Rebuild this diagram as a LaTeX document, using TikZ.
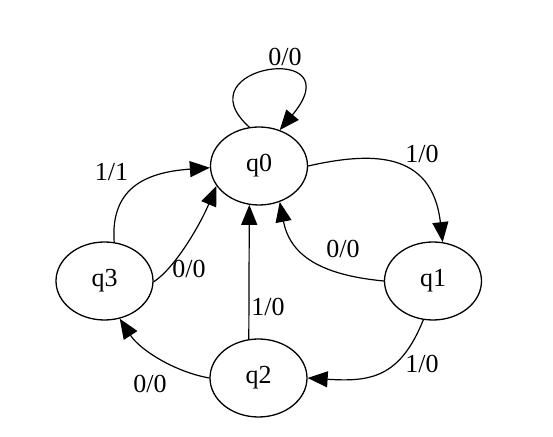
\documentclass[tikz,border=0pt]{standalone}
\usepackage{fontspec}
\setmainfont{Liberation Serif}
\usetikzlibrary{shapes.geometric,arrows.meta}
\begin{document}
\begin{tikzpicture}[x=0.5pt,y=-0.5pt,
  state/.style={ellipse,draw,line width=0.65pt,minimum width=48.5pt,minimum height=39pt,inner sep=0pt,font=\fontsize{13}{15}\selectfont},
  edge/.style={line width=0.6pt,-{Triangle[length=10pt,width=8pt]}},
  lbl/.style={font=\fontsize{13}{15}\selectfont,inner sep=0pt}]
\useasboundingbox[fill=white] (0,0) rectangle (553,437);
\node[state] (q0) at (259,166) {q0};
\node[state] (q1) at (433,281) {q1};
\node[state] (q2) at (258.5,378) {q2};
\node[state] (q3) at (104.5,281) {q3};
% self loop
\draw[edge] (q0.104) .. controls (180,65) and (355,40) .. (q0.60);
\node[lbl] (l00) at (285,57) {0/0};
% q0 -> q1
\draw[edge] (q0.east) .. controls (370,152) and (432,150) .. (q1.76);
\node[lbl] (l01) at (422,153.5) {1/0};
% q1 -> q0
\draw[edge] (q1.west) .. controls (320,275) and (290,255) .. (q0.300);
\node[lbl] (l10) at (343,249) {0/0};
% q1 -> q2
\draw[edge] (q1.256) .. controls (400,378) and (370,382) .. (q2.east);
\node[lbl] (l12) at (422,364) {1/0};
% q2 -> q0
\draw[edge] (q2.104) -- (q0.256);
\node[lbl] (l20) at (268,307) {1/0};
% q2 -> q3
\draw[edge] (q2.west) .. controls (175,372) and (140,350) .. (q3.292);
\node[lbl] (l23) at (150,384) {0/0};
% q3 -> q0 (1/1)
\draw[edge] (q3.76) .. controls (110,185) and (150,172) .. (q0.182);
\node[lbl] (l30a) at (111.5,172) {1/1};
% q3 -> q0 (0/0)
\draw[edge] (q3.359) .. controls (175,268) and (200,225) .. (q0.205);
\node[lbl] (l30b) at (189,269) {0/0};
\end{tikzpicture}
\end{document}
